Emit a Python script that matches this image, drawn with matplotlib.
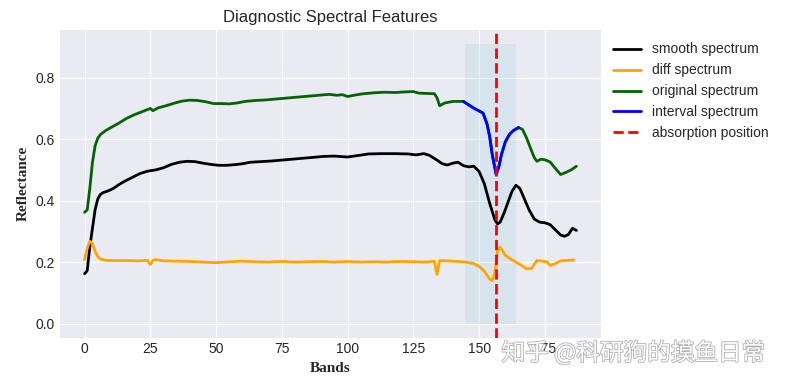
import matplotlib
matplotlib.use("Agg")
import matplotlib.pyplot as plt
import matplotlib.patheffects as pe
import numpy as np

# band positions / reflectance values
orig_bands = [0, 1, 2, 3, 4, 5, 6, 8, 10, 13, 16, 19, 22, 25, 26, 28, 31, 34, 37, 40,
              43, 46, 49, 52, 55, 58, 61, 65, 69, 73, 77, 81, 85, 89, 93, 96, 98, 100,
              103, 106, 110, 114, 118, 122, 125, 127, 130, 133, 134, 135, 137, 140, 144,
              146, 148, 150, 151.5, 153, 154, 155, 156.5, 157.5, 158.5, 160, 161.5, 163,
              165, 166.5, 168, 169.5, 171, 172, 173.5, 175, 177, 179, 181, 183, 185, 187]
orig_vals = [0.362, 0.37, 0.44, 0.525, 0.578, 0.603, 0.615, 0.628, 0.638, 0.652, 0.668,
             0.68, 0.69, 0.7, 0.693, 0.702, 0.709, 0.717, 0.724, 0.727, 0.726, 0.722,
             0.716, 0.716, 0.715, 0.718, 0.723, 0.726, 0.728, 0.731, 0.734, 0.737, 0.74,
             0.743, 0.746, 0.743, 0.745, 0.739, 0.744, 0.748, 0.751, 0.753, 0.752, 0.754,
             0.755, 0.75, 0.749, 0.748, 0.735, 0.709, 0.718, 0.723, 0.723,
             0.712, 0.701, 0.692, 0.685, 0.65, 0.61, 0.55, 0.485, 0.51, 0.55, 0.592,
             0.615, 0.628, 0.638, 0.632, 0.605, 0.572, 0.54, 0.528, 0.535, 0.533, 0.526,
             0.505, 0.485, 0.492, 0.5, 0.512]

smooth_bands = [0, 1, 2, 3, 4, 5, 6, 7, 9, 11, 13, 15, 18, 21, 24, 27, 30, 33, 36, 39,
                42, 45, 48, 51, 54, 57, 60, 63, 67, 71, 75, 79, 83, 87, 91, 95, 100, 104,
                108, 113, 118, 123, 126, 129, 131, 134, 136, 138, 140, 142, 144, 146, 148,
                150, 152, 154, 156, 157, 158, 159.5, 161, 162.5, 164, 165.5, 167, 169, 171,
                173, 175, 177, 179, 181, 182.5, 184, 185.5, 187]
smooth_vals = [0.162, 0.172, 0.25, 0.31, 0.37, 0.405, 0.42, 0.426, 0.432, 0.44, 0.452,
               0.462, 0.475, 0.488, 0.496, 0.5, 0.507, 0.518, 0.525, 0.528, 0.527, 0.522,
               0.518, 0.515, 0.515, 0.517, 0.52, 0.525, 0.527, 0.529, 0.532, 0.535, 0.538,
               0.541, 0.544, 0.545, 0.542, 0.547, 0.552, 0.553, 0.553, 0.552, 0.549, 0.553,
               0.548, 0.532, 0.52, 0.516, 0.522, 0.525, 0.514, 0.51, 0.512, 0.495, 0.455,
               0.392, 0.338, 0.324, 0.33, 0.36, 0.395, 0.43, 0.45, 0.44, 0.41, 0.37, 0.34,
               0.33, 0.328, 0.322, 0.305, 0.288, 0.284, 0.29, 0.31, 0.303]

diff_bands = [0, 1, 2, 3, 4, 5, 6, 8, 10, 15, 20, 24, 25, 26, 27, 30, 35, 40, 45, 50, 55,
              60, 65, 70, 75, 80, 85, 90, 95, 100, 105, 110, 115, 120, 125, 130, 133, 134,
              135, 137, 140, 145, 148, 150, 152, 154, 155, 156, 157, 158, 160, 162, 164,
              166, 168, 170, 172, 174, 176, 177, 179, 181, 184, 186]
diff_vals = [0.208, 0.245, 0.268, 0.26, 0.235, 0.218, 0.21, 0.206, 0.205, 0.205, 0.204,
             0.205, 0.192, 0.205, 0.208, 0.204, 0.203, 0.202, 0.2, 0.198, 0.201, 0.203,
             0.201, 0.2, 0.202, 0.2, 0.201, 0.202, 0.2, 0.202, 0.2, 0.201, 0.2, 0.202,
             0.201, 0.2, 0.203, 0.16, 0.205, 0.204, 0.203, 0.2, 0.195, 0.186, 0.17, 0.145,
             0.14, 0.165, 0.235, 0.249, 0.222, 0.21, 0.2, 0.19, 0.178, 0.18, 0.205, 0.203,
             0.2, 0.189, 0.195, 0.204, 0.206, 0.207]

# absorption interval and position
interval_start = 144.5
interval_end = 164
interval_top = 0.91
absorption_pos = 156.5

plt.style.use('seaborn-v0_8-darkgrid')
plt.rcParams['font.family'] = ['Liberation Sans', 'DejaVu Sans']

fig = plt.figure(figsize=(7.85, 3.92), dpi=100)
ax = fig.add_axes([0.0764, 0.139, 0.6892, 0.7845])

ob = np.array(orig_bands)
ov = np.array(orig_vals)
mask = (ob >= 144) & (ob <= 165)

ax.fill_between([interval_start, interval_end], 0, interval_top,
                color='lightblue', alpha=0.3, linewidth=0)
ax.plot(smooth_bands, smooth_vals, color='black', lw=2, label='smooth spectrum')
ax.plot(diff_bands, diff_vals, color='orange', lw=2, label='diff spectrum')
ax.plot(ob, ov, color='darkgreen', lw=2, label='original spectrum')
ax.plot(ob[mask], ov[mask], color='blue', lw=2, label='interval spectrum')
ax.axvline(absorption_pos, color='red', ls='--', lw=2, label='absorption position')

ax.set_title('Diagnostic Spectral Features', fontsize=12)
ax.set_xlabel('Bands', fontfamily='Liberation Serif', fontweight='bold', fontsize=11)
ax.set_ylabel('Reflectance', fontfamily='Liberation Serif', fontweight='bold', fontsize=11)
ax.tick_params(labelsize=10)

ax.legend(loc='upper left', bbox_to_anchor=(1.0, 1.0), frameon=False, fontsize=10)

# watermark
fig.text(0.975, 0.1, '知乎 @科研狗的摸鱼日常', ha='right', va='center',
         fontsize=17, color='white', family=['Noto Sans CJK SC', 'DejaVu Sans'],
         path_effects=[pe.withStroke(linewidth=1.2, foreground='#b0b0b0')])

fig.savefig('out.png', dpi=100)
